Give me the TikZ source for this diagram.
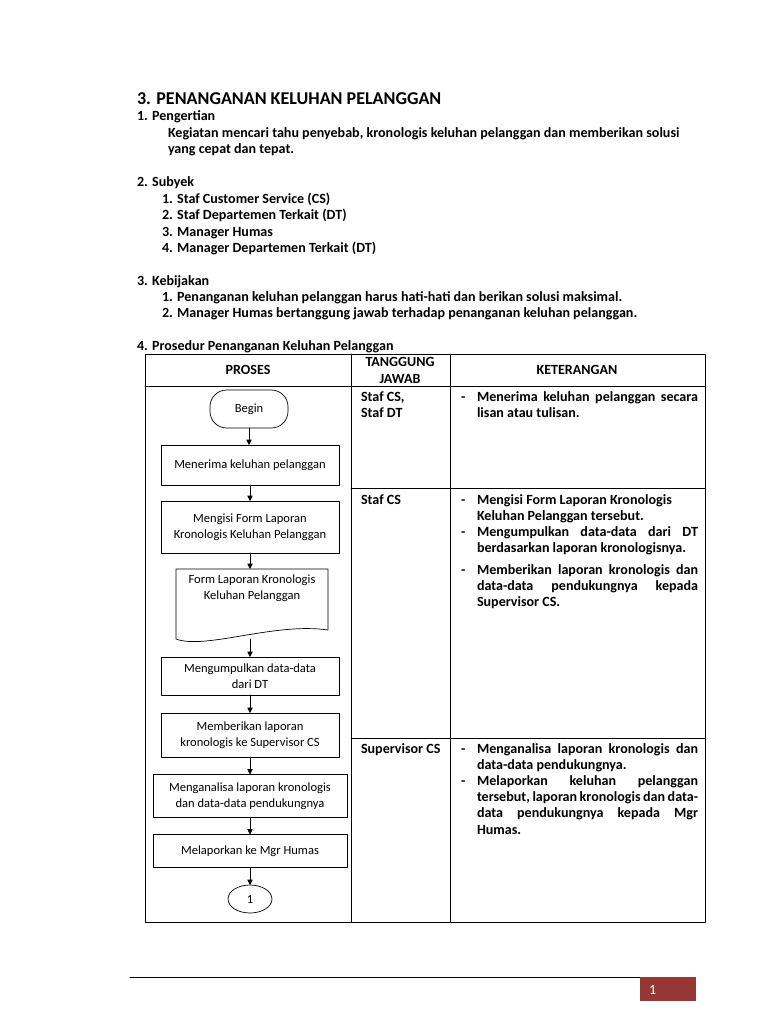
\documentclass[tikz,border=0pt]{standalone}
\usepackage{fontspec}
\setmainfont{Carlito}
\usetikzlibrary{arrows.meta,shapes.geometric}

\definecolor{pagered}{RGB}{149,55,53}
\newcommand{\jline}[1]{\makebox[6.63cm][s]{#1}}
\newcommand{\ketpar}[1]{\parbox[t]{6.8cm}{#1}}

\begin{document}
\begin{tikzpicture}[
			x=0.03cm, y=-0.03cm,
			every node/.style={inner sep=0pt, outer sep=0pt},
			line cap=round,
			line join=round,
			txt/.style={anchor=base west, font=\fontsize{12}{14}\selectfont\bfseries},
			para/.style={anchor=base west, font=\fontsize{12}{14}\selectfont\bfseries},
			proc/.style={draw, line width=0.6pt, align=center, minimum width=5.34cm, font=\fontsize{10.7}{13.7}\selectfont},
			flow/.style={line width=0.6pt, -{Triangle[length=4.5pt,width=4.5pt]}},
			grid/.style={line width=0.8pt}
			]
			% Page
			\useasboundingbox (0,0) rectangle (768,1024);
			
			% Heading and sections
			\node[txt, font=\fontsize{15.4}{18}\selectfont\bfseries] (title) at (137,104) {3. PENANGANAN KELUHAN PELANGGAN};
			\node[txt] (s1) at (137,120) {1. Pengertian};
			\node[txt] (s1a) at (168,137) {Kegiatan mencari tahu penyebab, kronologis keluhan pelanggan dan memberikan solusi};
			\node[txt] (s1b) at (168,153) {yang cepat dan tepat.};
			
			\node[txt] (s2) at (137,186) {2. Subyek};
			\node[txt] (s2a) at (162,203) {1. Staf Customer Service (CS)};
			\node[txt] (s2b) at (162,219) {2. Staf Departemen Terkait (DT)};
			\node[txt] (s2c) at (162,236) {3. Manager Humas};
			\node[txt] (s2d) at (162,252) {4. Manager Departemen Terkait (DT)};
			
			\node[txt] (s3) at (137,285) {3. Kebijakan};
			\node[txt] (s3a) at (162,301) {1. Penanganan keluhan pelanggan harus hati-hati dan berikan solusi maksimal.};
			\node[txt] (s3b) at (162,317) {2. Manager Humas bertanggung jawab terhadap penanganan keluhan pelanggan.};
			
			\node[txt] (s4) at (137,350) {4. Prosedur Penanganan Keluhan Pelanggan};
			
			% Table grid
			\draw[grid] (145,354) rectangle (705,922);
			\draw[grid] (145,386) -- (705,386);
			\draw[grid] (351,354) -- (351,922);
			\draw[grid] (450,354) -- (450,922);
			\draw[grid] (351,488) -- (705,488);
			\draw[grid] (351,738) -- (705,738);
			
			% Table header
			\node[font=\fontsize{12}{14}\selectfont\bfseries] (hproses) at (248,370) {PROSES};
			\node[font=\fontsize{12}{14.5}\selectfont\bfseries, align=center] (htj) at (400,370) {TANGGUNG\\JAWAB};
			\node[font=\fontsize{12}{14}\selectfont\bfseries] (hket) at (577,370) {KETERANGAN};
			
			% Tanggung jawab column
			\node[para] (tj1) at (361,401) {\ketpar{Staf CS,\\Staf DT}};
			\node[para] (tj2) at (361,504) {Staf CS};
			\node[para] (tj3) at (361,753) {Supervisor CS};
			
			% Keterangan column
			\node[para] (d1) at (461,401) {-};
			\node[para] (k1) at (477,401) {\ketpar{\jline{Menerima keluhan pelanggan secara}\\lisan atau tulisan.}};
			
			\node[para] (d2) at (461,504) {-};
			\node[para] (k2) at (477,504) {\ketpar{Mengisi Form Laporan Kronologis\\Keluhan Pelanggan tersebut.}};
			\node[para] (d3) at (461,536) {-};
			\node[para] (k3) at (477,536) {\ketpar{\jline{Mengumpulkan data-data dari DT}\\berdasarkan laporan kronologisnya.}};
			\node[para] (d4) at (461,574) {-};
			\node[para] (k4) at (477,574) {\ketpar{\jline{Memberikan laporan kronologis dan}\\\jline{data-data pendukungnya kepada}\\Supervisor CS.}};
			
			\node[para] (d5) at (461,753) {-};
			\node[para] (k5) at (477,753) {\ketpar{\jline{Menganalisa laporan kronologis dan}\\data-data pendukungnya.}};
			\node[para] (d6) at (461,785) {-};
			\node[para] (k6) at (477,785) {\ketpar{\jline{Melaporkan keluhan pelanggan}\\\jline{tersebut, laporan kronologis dan data-}\\\jline{data pendukungnya kepada Mgr}\\Humas.}};
			
			% Flowchart
			\node[draw, line width=0.6pt, rounded corners=0.5cm, minimum width=2.34cm, minimum height=1.14cm, font=\fontsize{10.7}{13.7}\selectfont] (begin) at (249,409) {Begin};
			\node[proc, minimum height=1.2cm] (menerima) at (250,465) {Menerima keluhan pelanggan};
			\node[proc, minimum height=1.56cm] (mengisi) at (250,527) {Mengisi Form Laporan\\Kronologis Keluhan Pelanggan};
			\node[minimum width=4.56cm, minimum height=2.1cm] (form) at (252,604) {};
			\node[font=\fontsize{10.7}{13.7}\selectfont, align=center] (formtxt) at (252,588) {Form Laporan Kronologis\\Keluhan Pelanggan};
			\node[proc, minimum height=1.14cm] (kumpul) at (250,676) {Mengumpulkan data-data\\dari DT};
			\node[proc, minimum height=1.32cm] (beri) at (250,735) {Memberikan laporan\\kronologis ke Supervisor CS};
			\node[proc, minimum width=5.82cm, minimum height=1.29cm] (analisa) at (250,796) {Menganalisa laporan kronologis\\dan data-data pendukungnya};
			\node[proc, minimum width=5.82cm, minimum height=0.99cm] (lapor) at (250,851) {Melaporkan ke Mgr Humas};
			\node[draw, ellipse, line width=0.6pt, minimum width=1.32cm, minimum height=0.84cm, font=\fontsize{10.7}{13.7}\selectfont] (konektor) at (250,899) {1};
			
			% Document outline
			\draw[line width=0.6pt] (form.south west) -- (form.north west) -- (form.north east) --
			([yshift=0.27cm]form.south east) .. controls ([xshift=-1.59cm,yshift=0.51cm]form.south east) and ([xshift=0.87cm,yshift=-0.33cm]form.south west) .. (form.south west);
			
			% Arrows
			\draw[flow] (begin.south) -- (begin.south |- menerima.north);
			\draw[flow] (menerima) -- (mengisi);
			\draw[flow] (mengisi.south) -- (mengisi.south |- form.north);
			\draw[flow] (kumpul.north |- form.south) -- (kumpul.north);
			\draw[flow] (kumpul) -- (beri);
			\draw[flow] (beri) -- (analisa);
			\draw[flow] (analisa) -- (lapor);
			\draw[flow] (lapor) -- (konektor);
			
			% Footer
			\draw[line width=0.6pt] (130,977) -- (640,977);
			\fill[pagered] (640,977) rectangle (696,1001);
			\node[txt, font=\fontsize{12}{14}\selectfont, text=white] (page) at (649,994) {1};
		\end{tikzpicture}
\end{document}
